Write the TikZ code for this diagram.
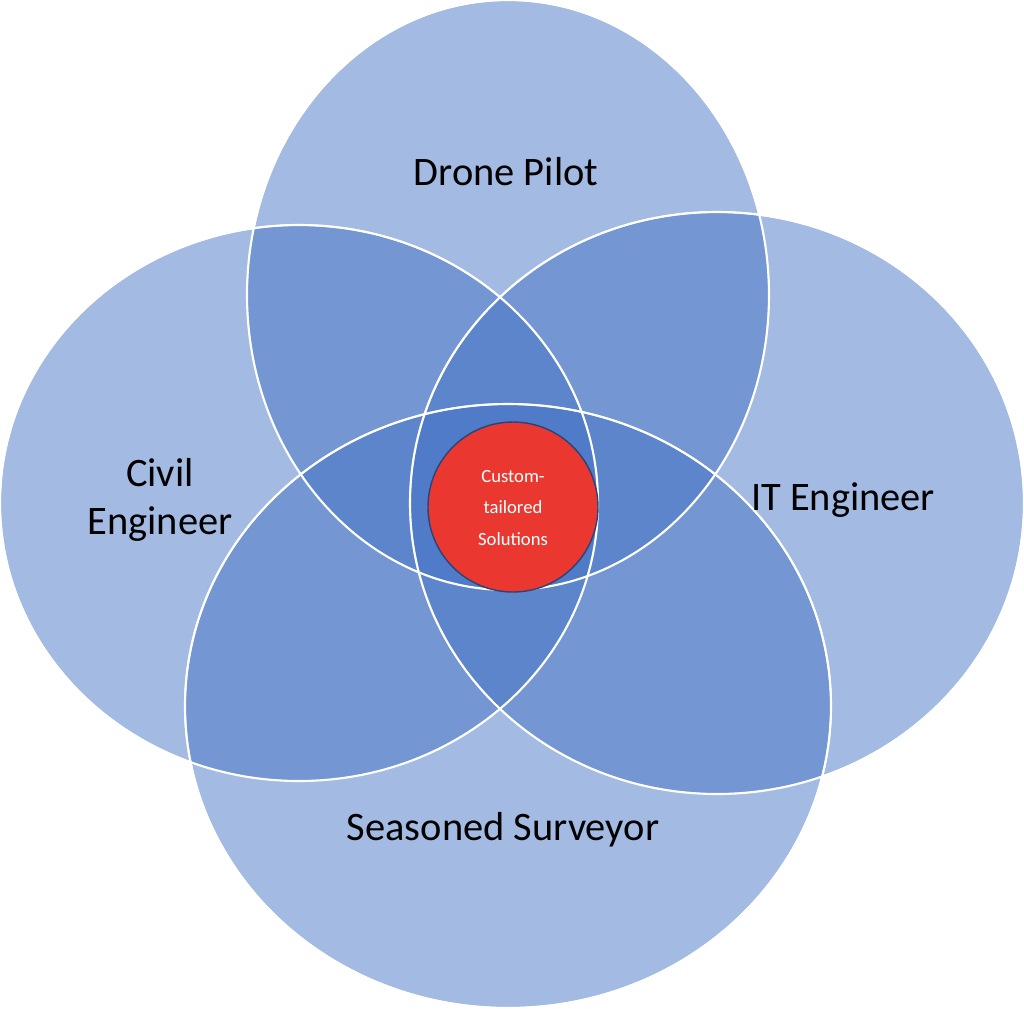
\documentclass[tikz,border=0pt]{standalone}
\usepackage{fontspec}
\setmainfont{Carlito}
\definecolor{vb}{RGB}{68,114,196}
\definecolor{rd}{RGB}{234,56,48}
\begin{document}
\begin{tikzpicture}[x=0.01cm,y=-0.01cm,
  venn/.style={fill=vb,fill opacity=0.49,draw=white,draw opacity=1,line width=0.5pt},
  lab/.style={font=\fontsize{11.5}{13.5}\selectfont,align=center,text=black}]
\useasboundingbox (0,0) rectangle (1024,1008);
\fill[venn] (508,295) ellipse [x radius=261,y radius=295];
\fill[venn] (299,503) ellipse [x radius=299,y radius=278];
\fill[venn] (717,503) ellipse [x radius=307,y radius=291];
\fill[venn] (508,706) ellipse [x radius=323,y radius=302];
\draw[white,line width=0.6pt] (508,295) ellipse [x radius=261,y radius=295];
\draw[white,line width=0.6pt] (299,503) ellipse [x radius=299,y radius=278];
\draw[white,line width=0.6pt] (717,503) ellipse [x radius=307,y radius=291];
\draw[white,line width=0.6pt] (508,706) ellipse [x radius=323,y radius=302];
\fill[rd,draw=vb!60!black,line width=0.4pt] (513,507) ellipse [x radius=85,y radius=85];
\node[lab] (dp) at (506,172) {Drone Pilot};
\node[lab] (ce) at (160,500) {Civil\\Engineer};
\node[lab] (it) at (843,500) {IT Engineer};
\node[lab] (ss) at (503,830) {Seasoned Surveyor};
\node[align=center,text=white,font=\fontsize{5.3}{9}\selectfont] (cs) at (513,508) {Custom-\\tailored\\Solutions};
\end{tikzpicture}
\end{document}
